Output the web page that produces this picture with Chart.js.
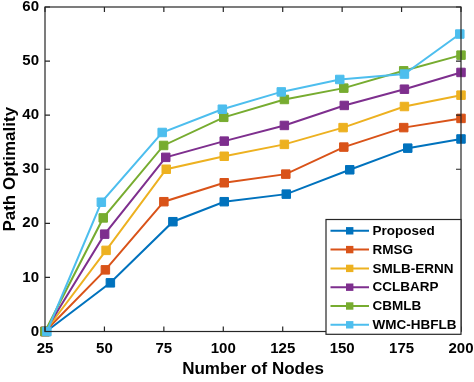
<!DOCTYPE html>
<html>
<head>
<meta charset="utf-8">
<script src="https://cdn.jsdelivr.net/npm/chart.js@4/dist/chart.umd.min.js"></script>
<style>
  html, body { margin: 0; padding: 0; background: #fff; }
  #wrap { width: 474px; height: 382px; position: relative; }
</style>
</head>
<body>
<div id="wrap"><canvas id="c" width="474" height="382"></canvas></div>
<script>
// ---- data ----
const seriesNames = ['Proposed', 'RMSG', 'SMLB-ERNN', 'CCLBARP', 'CBMLB', 'WMC-HBFLB'];
const xTickValues = [25, 50, 75, 100, 125, 150, 175, 200];
const yTickValues = [0, 10, 20, 30, 40, 50, 60];

const xProposed = [25.5, 52.5, 78.8, 100.4, 126.5, 153.2, 177.6, 200];
const yProposed = [0, 9.0, 20.3, 24.0, 25.4, 29.9, 33.9, 35.6];
const xRMSG = [25, 50.4, 75, 100.4, 126.3, 150.7, 175.9, 200];
const yRMSG = [0, 11.4, 24.0, 27.5, 29.1, 34.1, 37.7, 39.4];
const xSMLB = [25, 50.7, 76, 100.4, 125.7, 150.4, 176.2, 200];
const ySMLB = [0, 15.0, 30.0, 32.4, 34.6, 37.7, 41.6, 43.7];
const xCCLB = [25, 50.1, 75.8, 100.4, 125.7, 150.9, 176.2, 200];
const yCCLB = [0, 18.0, 32.2, 35.2, 38.1, 41.8, 44.8, 47.9];
const xCBMLB = [25, 49.5, 74.9, 100.2, 125.7, 150.7, 175.9, 200];
const yCBMLB = [0, 21.0, 34.4, 39.6, 42.9, 45.0, 48.2, 51.1];
const xWMC = [25.8, 48.7, 74.3, 99.6, 124.4, 149.0, 176.2, 199.5];
const yWMC = [0, 23.9, 36.8, 41.1, 44.3, 46.6, 47.6, 55.0];

const seriesX = [xProposed, xRMSG, xSMLB, xCCLB, xCBMLB, xWMC];
const seriesY = [yProposed, yRMSG, ySMLB, yCCLB, yCBMLB, yWMC];
const seriesColors = ['#0072BD', '#D95319', '#EDB120', '#7E2F8E', '#77AC30', '#4DBEEE'];

const FONT = "'Liberation Sans', Arial, Helvetica, sans-serif";
const AXIS = '#262626';

const datasets = seriesNames.map((name, i) => ({
  label: name,
  data: seriesX[i].map((x, k) => ({ x: x, y: seriesY[i][k] })),
  borderColor: seriesColors[i],
  backgroundColor: seriesColors[i],
  pointBackgroundColor: seriesColors[i],
  pointBorderColor: seriesColors[i],
  pointStyle: 'rect',
  pointRadius: 6,
  pointBorderWidth: 1,
  borderWidth: 2,
  tension: 0,
  clip: false,
  order: seriesNames.length - i
}));

const boxPlugin = {
  id: 'boxPlugin',
  afterDatasetsDraw(chart) {
    const ctx = chart.ctx;
    const a = chart.chartArea;
    const xs = chart.scales.x, ys = chart.scales.y;
    ctx.save();
    ctx.strokeStyle = AXIS;
    ctx.lineWidth = 1.2;
    ctx.strokeRect(a.left, a.top, a.right - a.left, a.bottom - a.top);
    const L = 5;
    ctx.beginPath();
    xs.ticks.forEach((t, i) => {
      const px = xs.getPixelForTick(i);
      ctx.moveTo(px, a.bottom); ctx.lineTo(px, a.bottom - L);
      ctx.moveTo(px, a.top); ctx.lineTo(px, a.top + L);
    });
    ys.ticks.forEach((t, i) => {
      const py = ys.getPixelForTick(i);
      ctx.moveTo(a.left, py); ctx.lineTo(a.left + L, py);
      ctx.moveTo(a.right, py); ctx.lineTo(a.right - L, py);
    });
    ctx.stroke();
    ctx.restore();
  },
  afterDraw(chart) {
    // legend inside the axes, lower right (MATLAB style)
    const ctx = chart.ctx;
    const a = chart.chartArea;
    const ds = chart.data.datasets;
    const boxRight = a.right;
    const boxLeft = a.right - 135;
    const boxTop = 219.5;
    const rowH = 18.8;
    const boxBottom = boxTop + rowH * ds.length + 2;
    ctx.save();
    ctx.fillStyle = '#ffffff';
    ctx.fillRect(boxLeft, boxTop, boxRight - boxLeft, boxBottom - boxTop);
    ctx.strokeStyle = AXIS;
    ctx.lineWidth = 1.2;
    ctx.strokeRect(boxLeft, boxTop, boxRight - boxLeft, boxBottom - boxTop);
    ctx.font = 'bold 13.5px ' + FONT;
    ctx.textBaseline = 'middle';
    ctx.textAlign = 'left';
    ds.forEach((d, i) => {
      const cy = boxTop + 11.3 + i * rowH;
      ctx.strokeStyle = d.borderColor;
      ctx.lineWidth = 2;
      ctx.beginPath();
      ctx.moveTo(boxLeft + 4.5, cy);
      ctx.lineTo(boxLeft + 43, cy);
      ctx.stroke();
      ctx.fillStyle = d.borderColor;
      ctx.fillRect(boxLeft + 23.7 - 3.7, cy - 3.7, 7.4, 7.4);
      ctx.fillStyle = '#000000';
      ctx.fillText(d.label, boxLeft + 46.5, cy + 0.5);
    });
    ctx.restore();
  }
};

new Chart(document.getElementById('c'), {
  type: 'line',
  data: { datasets: datasets },
  plugins: [boxPlugin],
  options: {
    responsive: false,
    animation: false,
    devicePixelRatio: 1,
    layout: { padding: { left: 0, right: 13, top: 7, bottom: 0 } },
    plugins: { legend: { display: false }, tooltip: { enabled: false } },
    scales: {
      x: {
        type: 'linear',
        min: 25, max: 200,
        afterBuildTicks(scale) { scale.ticks = xTickValues.map(v => ({ value: v })); },
        afterFit(scale) {
          scale.height = 50.5;
          scale.paddingLeft = 0; scale.paddingRight = 0;
          scale.paddingTop = 0; scale.paddingBottom = 0;
        },
        grid: { display: false, drawTicks: false },
        border: { display: false },
        ticks: {
          color: '#000',
          padding: 8,
          maxRotation: 0,
          autoSkip: false,
          font: { family: FONT, size: 15, weight: 'bold' }
        },
        title: {
          display: true,
          text: 'Number of Nodes',
          color: '#000',
          padding: { top: 0, bottom: 2 },
          font: { family: FONT, size: 17, weight: 'bold' }
        }
      },
      y: {
        type: 'linear',
        min: 0, max: 60,
        afterBuildTicks(scale) { scale.ticks = yTickValues.map(v => ({ value: v })); },
        afterFit(scale) {
          scale.width = 45;
          scale.paddingLeft = 0; scale.paddingRight = 0;
          scale.paddingTop = 0; scale.paddingBottom = 0;
        },
        grid: { display: false, drawTicks: false },
        border: { display: false },
        ticks: {
          color: '#000',
          padding: 6,
          autoSkip: false,
          font: { family: FONT, size: 15, weight: 'bold' }
        },
        title: {
          display: true,
          text: 'Path Optimality',
          color: '#000',
          padding: { top: 0, bottom: 0 },
          font: { family: FONT, size: 17, weight: 'bold' }
        }
      }
    }
  }
});
</script>
</body>
</html>
